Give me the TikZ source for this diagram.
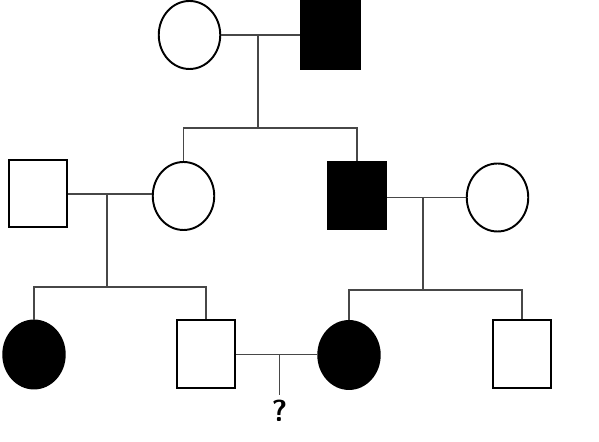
\documentclass[tikz,border=0pt]{standalone}
\usetikzlibrary{calc,shapes.geometric}

\begin{document}
\begin{tikzpicture}[
        female/.style={ellipse, draw=black, line width=1.1pt, minimum width=1.23cm, minimum height=1.36cm, inner sep=0pt},
        male/.style={rectangle, draw=black, line width=1.1pt, minimum width=1.17cm, minimum height=1.35cm, inner sep=0pt},
        affected/.style={fill=black},
        link/.style={draw=black!72, line width=0.75pt},
        label/.style={font=\sffamily\bfseries\LARGE, inner sep=0pt}
    ]
        \useasboundingbox (0,0) rectangle (11.98,8.84);

        % Generasi I
        \node[female] (I1) at (3.79,8.14) {};
        \node[male, affected] (I2) at (6.61,8.14) {};

        % Generasi II
        \node[male] (II1) at (0.76,4.97) {};
        \node[female] (II2) at (3.67,4.92) {};
        \node[male, affected] (II3) at (7.14,4.93) {};
        \node[female] (II4) at (9.95,4.89) {};

        % Generasi III
        \node[female, affected] (III1) at (0.68,1.75) {};
        \node[male] (III2) at (4.12,1.76) {};
        \node[female, affected] (III3) at (6.98,1.74) {};
        \node[male] (III4) at (10.44,1.76) {};

        % Anak yang ditanyakan
        \node[label] (Q) at (5.59,0.62) {?};

        % Titik turun dan garis saudara
        \coordinate (d1) at (5.16,8.14);
        \coordinate (s1) at (5.16,6.28);
        \coordinate (d2) at (2.14,4.96);
        \coordinate (s2) at (2.14,3.10);
        \coordinate (d3) at (8.46,4.89);
        \coordinate (s3) at (8.46,3.04);
        \coordinate (d4) at (5.59,1.75);

        % Garis pernikahan
        \draw[link] (I1) -- (I2);
        \draw[link] (II1.east |- d2) -- (II2.west |- d2);
        \draw[link] (II3.east |- d3) -- (II4.west |- d3);
        \draw[link] (III2.east |- d4) -- (III3.west |- d4);

        % Garis keturunan
        \draw[link] (d1) -- (s1);
        \draw[link] (II2.north) |- (s1) -| (II3.north);
        \draw[link] (d2) -- (s2);
        \draw[link] (III1.north) |- (s2) -| (III2.north);
        \draw[link] (d3) -- (s3);
        \draw[link] (III3.north) |- (s3) -| (III4.north);
        \draw[link, shorten >=3pt] (d4) -- (Q.north);

    \end{tikzpicture}
\end{document}
